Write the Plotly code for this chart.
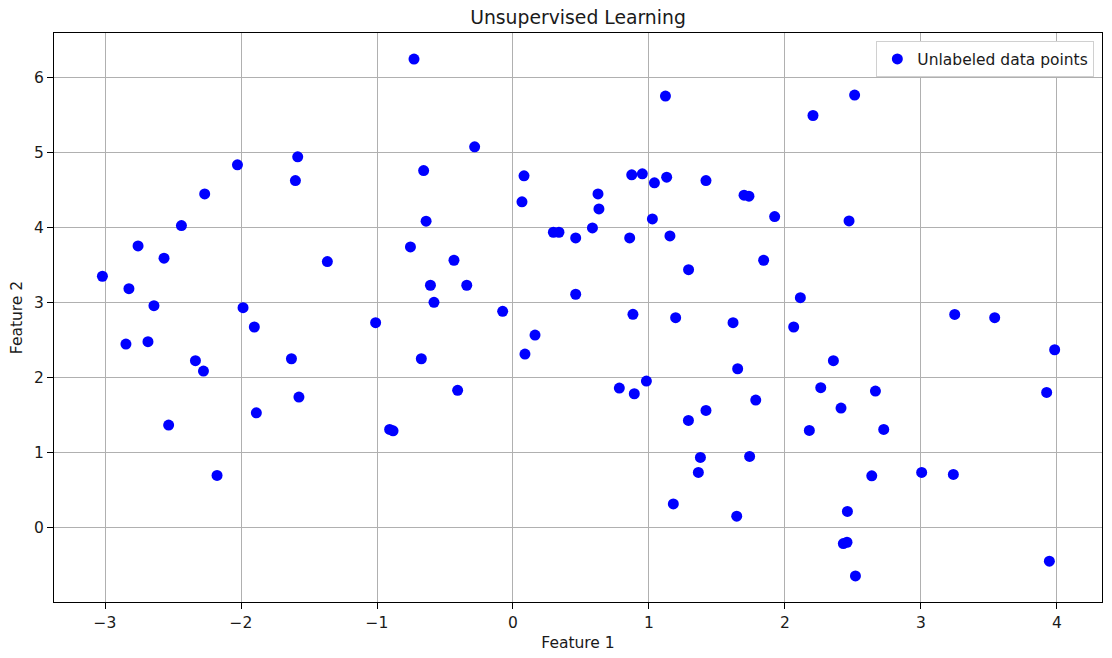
import plotly.graph_objects as go

feature_1 = [
    -0.728, -2.026, -1.583, -1.600, -2.267, -2.438, -2.757, -2.566, -3.019, -2.824,
    -2.640, -1.985, -1.365, -0.754, -1.010, 1.121, -0.282, -0.657, 0.081, 0.066,
    -0.639, -0.434, -0.607, -0.340, -0.581, -0.076, 0.297, 0.338, 0.461, 0.584,
    0.625, 0.632, 0.461, 0.858, 0.873, 0.951, 1.040, 1.130, 1.025, 1.154,
    1.419, 1.699, 1.735, 1.291, 1.843, 0.882, 1.196, 1.618, 2.512, 2.206,
    1.924, 2.471, 2.113, 3.248, 3.542, -1.902, -2.846, -2.684, -2.335, -2.276,
    -1.629, -0.674, -1.574, -1.887, -2.532, -0.907, -0.882, -2.176, 0.162, 0.088,
    -0.407, 1.652, 0.782, 0.892, 0.981, 1.785, 1.419, 1.290, 1.378, 1.740,
    1.363, 1.179, 1.645, 2.064, 3.983, 2.356, 2.263, 2.665, 3.924, 2.412,
    2.179, 2.726, 2.638, 3.005, 3.238, 2.459, 2.429, 2.456, 2.518, 3.944,
]
feature_2 = [
    6.245, 4.836, 4.943, 4.627, 4.449, 4.027, 3.756, 3.592, 3.352, 3.187,
    2.960, 2.933, 3.547, 3.743, 2.733, 5.752, 5.076, 4.760, 4.689, 4.343,
    4.085, 3.565, 3.232, 3.232, 3.005, 2.885, 3.938, 3.938, 3.863, 3.996,
    4.449, 4.249, 3.112, 3.863, 4.703, 4.716, 4.596, 4.671, 4.116, 3.889,
    4.627, 4.432, 4.419, 3.440, 3.565, 2.845, 2.800, 2.733, 5.765, 5.493,
    4.147, 4.089, 3.067, 2.843, 2.800, 2.676, 2.449, 2.480, 2.227, 2.089,
    2.253, 2.253, 1.743, 1.533, 1.369, 1.312, 1.293, 0.699, 2.569, 2.316,
    1.832, 2.120, 1.863, 1.787, 1.956, 1.703, 1.565, 1.432, 0.939, 0.952,
    0.739, 0.320, 0.156, 2.676, 2.373, 2.227, 1.867, 1.823, 1.805, 1.596,
    1.299, 1.312, 0.693, 0.739, 0.712, 0.219, -0.208, -0.191, -0.640, -0.444,
]

x_ticks = [-3, -2, -1, 0, 1, 2, 3, 4]
y_ticks = [0, 1, 2, 3, 4, 5, 6]

FONT = "DejaVu Sans, sans-serif"
TXT = 15.5

fig = go.Figure()
fig.add_trace(go.Scatter(
    x=feature_1, y=feature_2, mode="markers",
    name="Unlabeled data points",
    marker=dict(color="blue", size=11, line=dict(width=0)),
))

axis_common = dict(
    showline=True, linecolor="black", linewidth=1, mirror=True,
    ticks="outside", ticklen=6, tickwidth=1, tickcolor="black",
    showgrid=True, gridcolor="#b0b0b0", gridwidth=1,
    zeroline=False, automargin=False,
    tickfont=dict(family=FONT, size=TXT, color="#1a1a1a"),
)

fig.update_layout(
    width=1104, height=650,
    margin=dict(l=46, r=10, t=25, b=56, autoexpand=False),
    paper_bgcolor="white", plot_bgcolor="white",
    font=dict(family=FONT, color="#1a1a1a"),
    title=dict(text="Unsupervised Learning", x=0.5, xref="paper", xanchor="center",
               y=1 - 9 / 650, yanchor="middle", yref="container", automargin=False,
               font=dict(family=FONT, size=18.8, color="#1a1a1a")),
    xaxis=dict(range=[-3.375, 4.331], tickvals=x_ticks,
               title=dict(text="Feature 1", font=dict(family=FONT, size=TXT), standoff=6),
               **axis_common),
    yaxis=dict(range=[-0.987, 6.592], tickvals=y_ticks,
               title=dict(text="Feature 2", font=dict(family=FONT, size=TXT), standoff=8),
               **axis_common),
    showlegend=True,
    legend=dict(x=0.9927, y=0.9854, xanchor="right", yanchor="top",
                bgcolor="white", bordercolor="#d0d0d0", borderwidth=1,
                font=dict(family=FONT, size=TXT, color="#1a1a1a")),
)

fig.write_html("out.html")
